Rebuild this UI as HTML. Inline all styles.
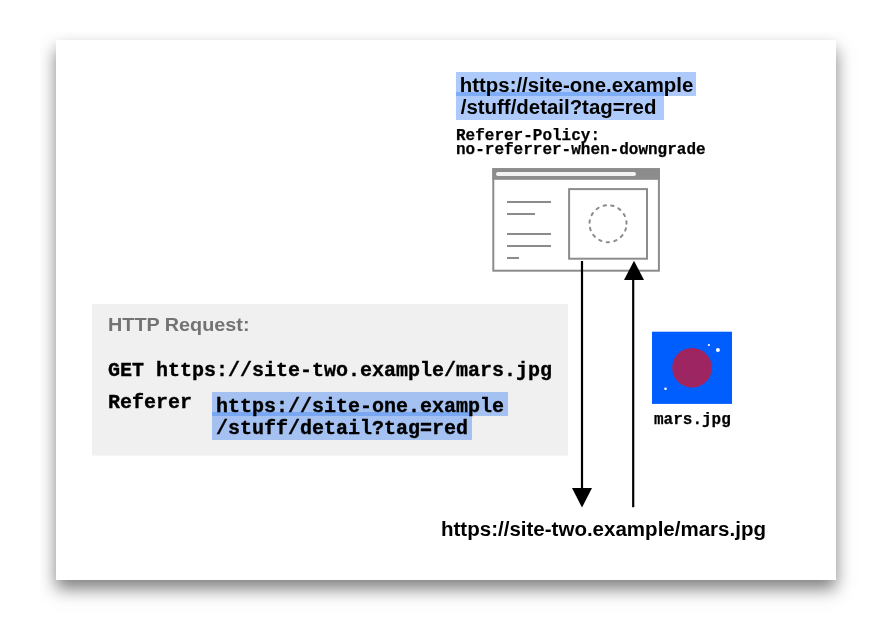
<!DOCTYPE html>
<html><head><meta charset="utf-8">
<style>
html,body{margin:0;padding:0;background:#fff;width:888px;height:636px;overflow:hidden;}
#card{position:absolute;left:16px;top:8px;width:780px;height:540px;background:#fff;box-shadow:0 9px 16px rgba(0,0,0,0.5);}
svg{position:absolute;left:0;top:0;will-change:transform;}
.sans{font-family:"Liberation Sans",sans-serif;font-weight:bold;}
.mono{font-family:"Liberation Mono",monospace;font-weight:bold;}
</style></head>
<body>
<div id="clip" style="position:absolute;left:40px;top:32px;width:848px;height:604px;overflow:hidden;"><div id="card"></div></div>
<svg width="888" height="636" viewBox="0 0 888 636">
  <!-- top highlight -->
  <rect x="456" y="72" width="240" height="24" fill="#4285f4" fill-opacity="0.43"/>
  <rect x="456" y="92" width="208" height="28" fill="#4285f4" fill-opacity="0.43"/>
  <text class="sans" x="459.8" y="91.9" font-size="19.5" fill="#000" textLength="233.5" lengthAdjust="spacingAndGlyphs">https://site-one.example</text>
  <text class="sans" x="460.8" y="113.8" font-size="19.5" fill="#000" textLength="195.6" lengthAdjust="spacingAndGlyphs">/stuff/detail?tag=red</text>
  <text class="mono" x="456" y="139.7" font-size="16.8" fill="#000" stroke="#000" stroke-width="0.25" textLength="144" lengthAdjust="spacingAndGlyphs">Referer-Policy:</text>
  <text class="mono" x="456" y="153.9" font-size="16.8" fill="#000" stroke="#000" stroke-width="0.25" textLength="249.6" lengthAdjust="spacingAndGlyphs">no-referrer-when-downgrade</text>

  <!-- browser window -->
  <rect x="493.3" y="169.2" width="165.6" height="101.5" fill="#fff" stroke="#8c8c8c" stroke-width="2"/>
  <rect x="492.3" y="168.2" width="167.6" height="11.6" fill="#8c8c8c"/>
  <rect x="496" y="172" width="140" height="4" rx="2" fill="#f3f3f3"/>
  <g stroke="#8c8c8c" stroke-width="2">
    <line x1="507" y1="202" x2="551" y2="202"/>
    <line x1="507" y1="214" x2="535" y2="214"/>
    <line x1="507" y1="234" x2="551" y2="234"/>
    <line x1="507" y1="246" x2="551" y2="246"/>
    <line x1="507" y1="258" x2="519" y2="258"/>
  </g>
  <rect x="569.1" y="189.1" width="77.9" height="69.6" fill="#fff" stroke="#8c8c8c" stroke-width="2"/>
  <circle cx="608" cy="223.7" r="18.5" fill="none" stroke="#8c8c8c" stroke-width="2" stroke-linecap="round" stroke-dasharray="2.5 5.249" stroke-dashoffset="3.19"/>

  <!-- arrows -->
  <line x1="582" y1="261" x2="582" y2="490" stroke="#000" stroke-width="2.2"/>
  <polygon points="572,488 592,488 582,507.5" fill="#000"/>
  <line x1="633.2" y1="278" x2="633.2" y2="507.2" stroke="#000" stroke-width="2.2"/>
  <polygon points="624,280 644,280 634,260.7" fill="#000"/>

  <!-- http request box -->
  <rect x="92" y="304" width="476" height="151.6" fill="#f0f0f0"/>
  <text class="sans" x="108" y="331" font-size="19" fill="#737373" textLength="141.5" lengthAdjust="spacingAndGlyphs">HTTP Request:</text>
  <text class="mono" x="108" y="375.7" font-size="20" fill="#000" stroke="#000" stroke-width="0.35" textLength="444" lengthAdjust="spacingAndGlyphs">GET https://site-two.example/mars.jpg</text>
  <text class="mono" x="108" y="408" font-size="20" fill="#000" stroke="#000" stroke-width="0.35" textLength="84" lengthAdjust="spacingAndGlyphs">Referer</text>
  <rect x="212" y="392" width="296" height="24" fill="#4285f4" fill-opacity="0.43"/>
  <rect x="212" y="412" width="260" height="28" fill="#4285f4" fill-opacity="0.43"/>
  <text class="mono" x="216" y="411.6" font-size="20" fill="#000" stroke="#000" stroke-width="0.35" textLength="288" lengthAdjust="spacingAndGlyphs">https://site-one.example</text>
  <text class="mono" x="216" y="434.3" font-size="20" fill="#000" stroke="#000" stroke-width="0.35" textLength="252" lengthAdjust="spacingAndGlyphs">/stuff/detail?tag=red</text>

  <!-- mars -->
  <rect x="652" y="331.7" width="80" height="72.2" fill="#005efe"/>
  <circle cx="692" cy="367.8" r="19.8" fill="#a3245d"/>
  <circle cx="692" cy="367.8" r="16.5" fill="#9c2562"/>
  <circle cx="708.9" cy="345" r="1.1" fill="#fff"/>
  <circle cx="717.9" cy="349.9" r="2" fill="#fff"/>
  <circle cx="665.5" cy="388.8" r="1.3" fill="#fff"/>
  <text class="mono" x="654" y="423.8" font-size="16.8" fill="#000" stroke="#000" stroke-width="0.25" textLength="76.8" lengthAdjust="spacingAndGlyphs">mars.jpg</text>

  <!-- bottom url -->
  <text class="sans" x="441" y="535.7" font-size="19.5" fill="#000" textLength="325" lengthAdjust="spacingAndGlyphs">https://site-two.example/mars.jpg</text>
</svg>
</body></html>
